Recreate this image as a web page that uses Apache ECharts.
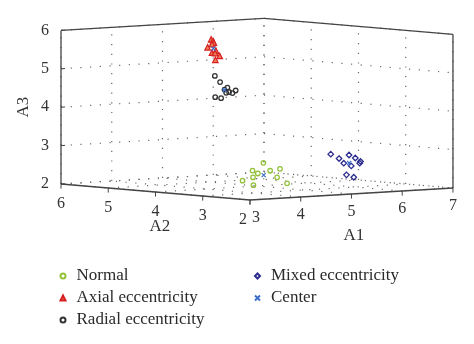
<!DOCTYPE html>
<html>
<head>
<meta charset="utf-8">
<script src="https://cdn.jsdelivr.net/npm/echarts@6/dist/echarts.min.js"></script>
<style>
  html, body { margin: 0; padding: 0; background: #fff; }
  #chart { width: 474px; height: 344px; }
</style>
</head>
<body>
<div id="chart"></div>
<script>
// ---- Axis ranges and tick values ----
const A1_RANGE = [3, 7];
const A2_RANGE = [2, 6];
const A3_RANGE = [2, 6];
const A1_TICKS = [3, 4, 5, 6, 7];
const A2_TICKS = [2, 3, 4, 5, 6];
const A3_TICKS = [2, 3, 4, 5, 6];

// ---- Feature values per condition ----
const normalA1 = [3.73, 3.33, 3.62, 3.77, 4.15, 3.04, 3.34, 4.00, 3.44, 4.29];
const normalA2 = [2.5, 2.3, 2.5, 2.4, 2.6, 2.2, 2.3, 2.5, 2.4, 2.6];
const normalA3 = [2.86, 2.71, 2.59, 2.66, 2.66, 2.48, 2.53, 2.46, 2.31, 2.27];

const axialA1 = [4.19, 4.04, 4.15, 4.30, 4.12, 4.02, 4.19, 4.36, 4.08, 4.18];
const axialA2 = [4.1, 3.9, 4.0, 4.2, 4.1, 3.9, 4.0, 4.2, 3.8, 4.0];
const axialA3 = [5.87, 5.86, 5.80, 5.73, 5.67, 5.56, 5.59, 5.49, 5.48, 5.35];

const radialA1 = [4.17, 4.18, 4.27, 4.20, 4.36, 4.51, 4.30, 4.45, 4.61, 4.58];
const radialA2 = [4.0, 3.9, 4.1, 3.9, 4.0, 4.1, 3.9, 4.0, 4.1, 4.0];
const radialA3 = [4.93, 4.78, 4.36, 4.36, 4.56, 4.59, 4.49, 4.49, 4.44, 4.52];

const mixedA1 = [5.43, 5.50, 5.50, 5.79, 5.82, 5.83, 6.00, 5.74, 5.46, 5.79];
const mixedA2 = [2.9, 2.8, 2.7, 2.9, 2.8, 2.7, 2.9, 2.8, 2.6, 2.8];
const mixedA3 = [2.91, 2.80, 2.69, 2.86, 2.79, 2.71, 2.63, 2.59, 2.40, 2.29];

// cluster centres: Normal, Axial, Radial, Mixed
const centerA1 = [3.67, 4.16, 4.36, 5.69];
const centerA2 = [2.43, 4.02, 4.00, 2.79];
const centerA3 = [2.55, 5.64, 4.55, 2.67];

// ---- Orthographic view of the 3-D box ----
const VIEW_AZ = 39.9 * Math.PI / 180;
const VIEW_EL = 4.06 * Math.PI / 180;
const BOX = [264.6, 294.6, 154.0];   // plot-box edge lengths along A1, A2, A3

function project(a1, a2, a3) {
  const u = (a1 - A1_RANGE[0]) / (A1_RANGE[1] - A1_RANGE[0]) * BOX[0];
  const v = (a2 - A2_RANGE[0]) / (A2_RANGE[1] - A2_RANGE[0]) * BOX[1];
  const w = (a3 - A3_RANGE[0]) / (A3_RANGE[1] - A3_RANGE[0]) * BOX[2];
  const x = u * Math.cos(VIEW_AZ) - v * Math.sin(VIEW_AZ);
  const depth = u * Math.sin(VIEW_AZ) + v * Math.cos(VIEW_AZ);
  const y = depth * Math.sin(VIEW_EL) + w * Math.cos(VIEW_EL);
  return [x, y];
}

// extent of the projected box
const corners = [];
for (const a of A1_RANGE) for (const b of A2_RANGE) for (const c of A3_RANGE) corners.push(project(a, b, c));
const xMin = Math.min(...corners.map(p => p[0])), xMax = Math.max(...corners.map(p => p[0]));
const yMin = Math.min(...corners.map(p => p[1])), yMax = Math.max(...corners.map(p => p[1]));

const [a1Lo, a1Hi] = A1_RANGE, [a2Lo, a2Hi] = A2_RANGE, [a3Lo, a3Hi] = A3_RANGE;

// ---- Box edges ----
const solidEdges = [
  [[a1Lo, a2Hi, a3Hi], [a1Hi, a2Hi, a3Hi]],
  [[a1Hi, a2Hi, a3Hi], [a1Hi, a2Lo, a3Hi]],
  [[a1Lo, a2Hi, a3Lo], [a1Lo, a2Hi, a3Hi]],
  [[a1Hi, a2Lo, a3Lo], [a1Hi, a2Lo, a3Hi]],
  [[a1Lo, a2Hi, a3Lo], [a1Lo, a2Lo, a3Lo]],
  [[a1Lo, a2Lo, a3Lo], [a1Hi, a2Lo, a3Lo]]
];

// ---- Dotted grid on the back walls and floor ----
const gridEdges = [];
A1_TICKS.forEach(t => {
  gridEdges.push([[t, a2Lo, a3Lo], [t, a2Hi, a3Lo]]);          // floor
  gridEdges.push([[t, a2Hi, a3Lo], [t, a2Hi, a3Hi]]);          // wall A2 = max
});
A2_TICKS.forEach(t => {
  gridEdges.push([[a1Lo, t, a3Lo], [a1Hi, t, a3Lo]]);          // floor
  gridEdges.push([[a1Hi, t, a3Lo], [a1Hi, t, a3Hi]]);          // wall A1 = max
});
A3_TICKS.forEach(t => {
  gridEdges.push([[a1Lo, a2Hi, t], [a1Hi, a2Hi, t]]);
  gridEdges.push([[a1Hi, a2Hi, t], [a1Hi, a2Lo, t]]);
});

// ---- Tick marks ----
const tickEdges = [];
A1_TICKS.forEach(t => tickEdges.push([[t, a2Lo, a3Lo], [t, a2Lo, a3Lo - 0.12]]));
A2_TICKS.forEach(t => tickEdges.push([[a1Lo, t, a3Lo], [a1Lo, t, a3Lo - 0.12]]));
A3_TICKS.forEach(t => tickEdges.push([[a1Lo, a2Hi, t], [a1Lo + 0.08, a2Hi, t]]));

// ---- Text: tick labels and axis names ----
const FONT = '"Liberation Serif", "DejaVu Serif", serif';
const texts = [];
A1_TICKS.forEach(t => texts.push({ at: [t, a2Lo, a3Lo], text: String(t), dx: t === a1Lo ? 6 : 0, dy: 18, size: 16 }));
A2_TICKS.forEach(t => texts.push({ at: [a1Lo, t, a3Lo], text: String(t), dx: t === a2Lo ? -7 : 0, dy: 20, size: 16 }));
A3_TICKS.forEach(t => texts.push({ at: [a1Lo, a2Hi, t], text: String(t), dx: -12, dy: 0, size: 16, align: 'right' }));
texts.push({ at: [5, a2Lo, a3Lo], text: 'A1', dx: 2.5, dy: 42, size: 17 });
texts.push({ at: [a1Lo, 4, a3Lo], text: 'A2', dx: 4.5, dy: 35, size: 17 });
texts.push({ at: [a1Lo, a2Hi, 4], text: 'A3', dx: -37, dy: 0, size: 17, rotate: Math.PI / 2 });

function segmentSeries(edges, style, z) {
  return {
    type: 'custom', coordinateSystem: 'cartesian2d', silent: true, z: z,
    data: edges.map(([p, q]) => [...project(...p), ...project(...q)]),
    encode: { x: [0, 2], y: [1, 3] },
    renderItem: (params, api) => {
      const s = api.coord([api.value(0), api.value(1)]);
      const e = api.coord([api.value(2), api.value(3)]);
      return { type: 'line', shape: { x1: s[0], y1: s[1], x2: e[0], y2: e[1] }, style: style };
    }
  };
}

const textSeries = {
  type: 'custom', coordinateSystem: 'cartesian2d', silent: true, z: 4,
  data: texts.map(t => project(...t.at)),
  renderItem: (params, api) => {
    const t = texts[params.dataIndex];
    const p = api.coord([api.value(0), api.value(1)]);
    return {
      type: 'text', x: p[0] + t.dx, y: p[1] + t.dy, rotation: t.rotate || 0,
      style: {
        text: t.text, fill: '#333', font: t.size + 'px ' + FONT,
        textAlign: t.align || 'center', textVerticalAlign: 'middle'
      }
    };
  }
};

function points(a1, a2, a3) {
  return a1.map((v, i) => project(v, a2[i], a3[i]));
}

function scatter(name, data, symbol, size, stroke, fill, width) {
  return {
    type: 'scatter', name: name, data: data, symbol: symbol, symbolSize: size, z: 5,
    symbolKeepAspect: true,
    itemStyle: { color: fill, borderColor: stroke, borderWidth: width, opacity: 1 },
    emphasis: { disabled: true }
  };
}

const CROSS = 'path://M0,0L10,10M10,0L0,10';

const legendText = {
  fontFamily: FONT, fontSize: 17, color: '#2a2a2a', lineHeight: 22,
  padding: [0, 0, 0, 6]
};

const chart = echarts.init(document.getElementById('chart'));
chart.setOption({
  animation: false,
  backgroundColor: '#fff',
  grid: {
    left: 61, bottom: 144,
    width: xMax - xMin, height: yMax - yMin
  },
  xAxis: { type: 'value', min: xMin, max: xMax, show: false },
  yAxis: { type: 'value', min: yMin, max: yMax, show: false },
  legend: [
    {
      data: ['Normal', 'Axial eccentricity', 'Radial eccentricity'],
      orient: 'vertical', left: 59.5, top: 265, padding: 0,
      itemWidth: 5, itemHeight: 5, itemGap: 0,
      selectedMode: false, textStyle: legendText
    },
    {
      data: ['Mixed eccentricity', 'Center'],
      orient: 'vertical', left: 254, top: 265, padding: 0,
      itemWidth: 5, itemHeight: 5, itemGap: 0,
      selectedMode: false, textStyle: legendText
    }
  ],
  series: [
    segmentSeries(gridEdges, { stroke: '#6a6a6a', lineWidth: 1.2, lineDash: [1.2, 8.5] }, 1),
    segmentSeries(solidEdges, { stroke: '#444', lineWidth: 1.3 }, 2),
    segmentSeries(tickEdges, { stroke: '#444', lineWidth: 1 }, 2),
    textSeries,
    scatter('Normal', points(normalA1, normalA2, normalA3), 'circle', 4.5, '#94c23a', 'rgba(255,255,255,0)', 1.3),
    scatter('Axial eccentricity', points(axialA1, axialA2, axialA3), 'triangle', 5.5, '#d62020', '#ee7f5a', 1.2),
    scatter('Radial eccentricity', points(radialA1, radialA2, radialA3), 'circle', 4.5, '#333', 'rgba(255,255,255,0)', 1.3),
    scatter('Mixed eccentricity', points(mixedA1, mixedA2, mixedA3), 'diamond', 5.5, '#2c2c8e', 'rgba(255,255,255,0)', 1.3),
    scatter('Center', points(centerA1, centerA2, centerA3), CROSS, 4, '#3c6fc8', 'rgba(255,255,255,0)', 1.2)
  ]
});
</script>
</body>
</html>
